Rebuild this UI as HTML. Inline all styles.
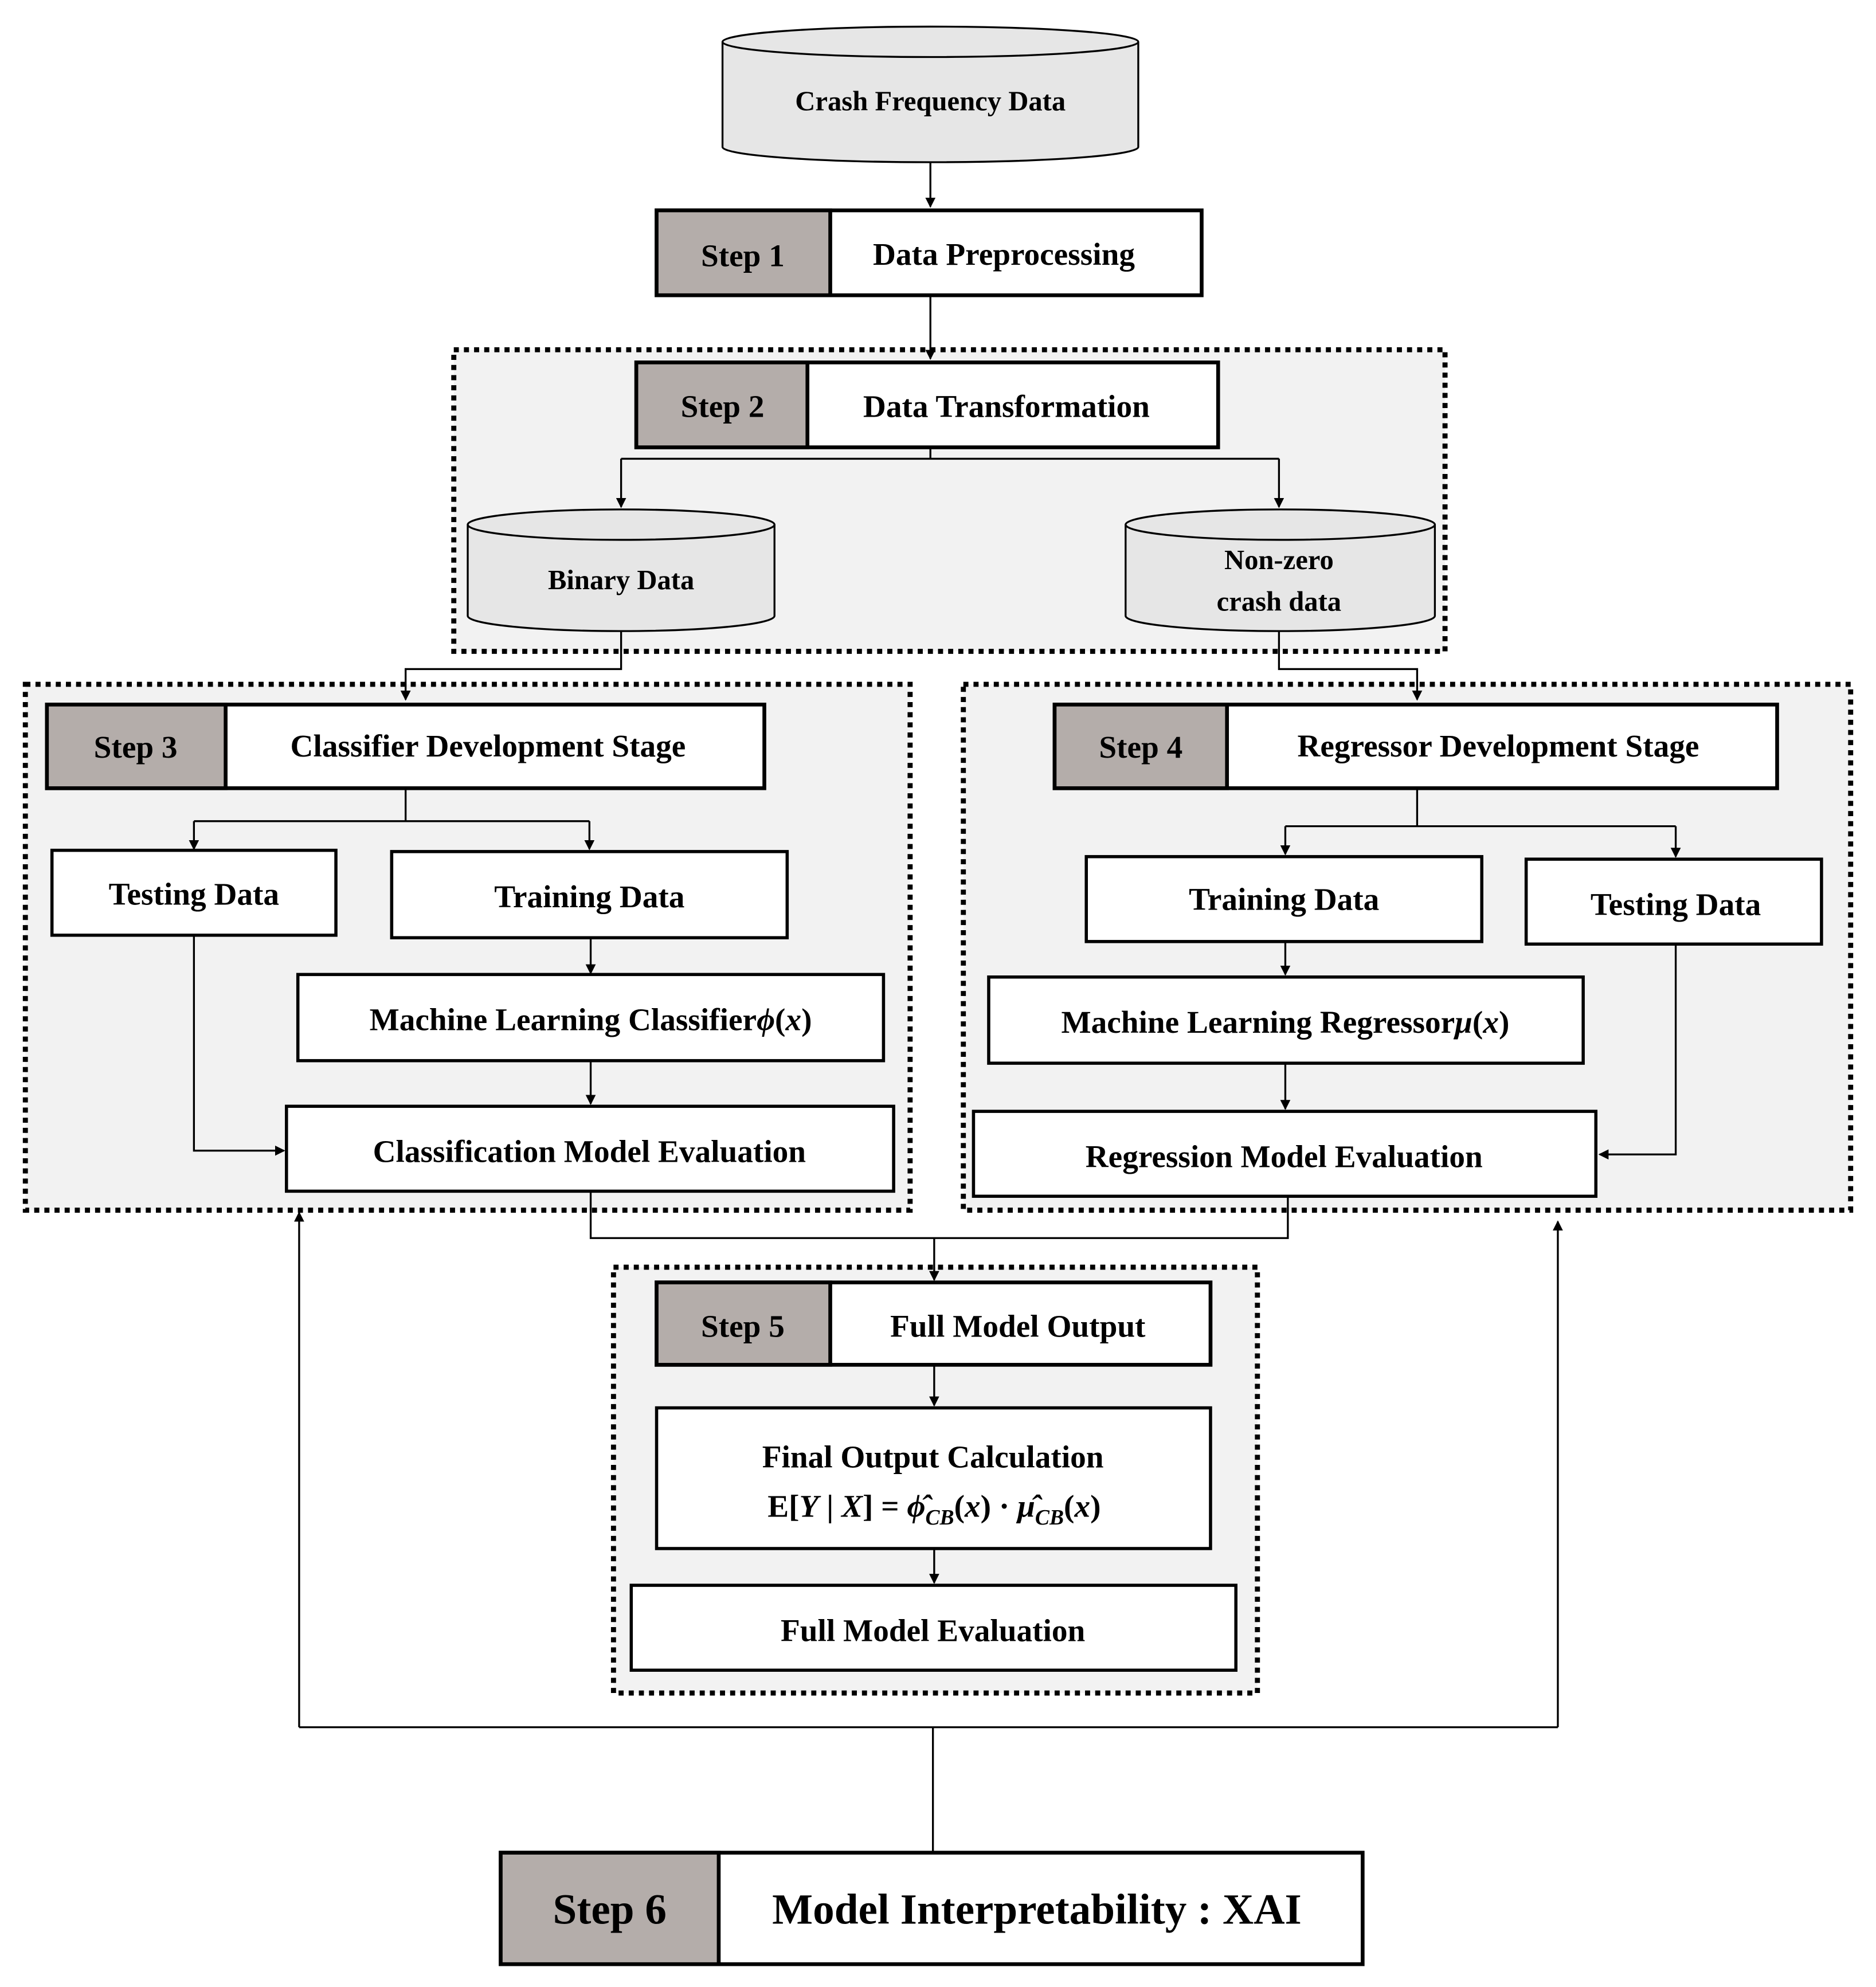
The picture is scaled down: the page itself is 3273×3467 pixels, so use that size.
<!DOCTYPE html>
<html><head><meta charset="utf-8"><style>html,body{margin:0;padding:0;background:#fff}svg{display:block}</style></head>
<body>
<svg width="3273" height="3467" viewBox="0 0 1480 1568" preserveAspectRatio="none" xmlns="http://www.w3.org/2000/svg" font-family="'Liberation Serif', serif" font-weight="bold">
<defs>
<marker id="a" markerWidth="8" markerHeight="8" refX="7" refY="4" orient="auto" markerUnits="userSpaceOnUse" viewBox="0 0 8 8"><path d="M0,0 L8,4 L0,8z" fill="#000"/></marker>
</defs>
<rect width="1480" height="1568" fill="#fff"/>
<!-- dotted regions -->
<g fill="#f2f2f2" stroke="#000" stroke-width="4" stroke-dasharray="4,4">
<rect x="358" y="276" width="782" height="238"/>
<rect x="20" y="540" width="698" height="415"/>
<rect x="760" y="540" width="700" height="415"/>
<rect x="484" y="1000" width="508" height="336"/>
</g>
<!-- cylinders -->
<g fill="#e6e6e6" stroke="#000" stroke-width="1.5">
<path d="M570,33 L570,116 A164,12 0 0 0 898,116 L898,33"/>
<ellipse cx="734" cy="33" rx="164" ry="12"/>
<path d="M369,414 L369,486 A121,12 0 0 0 611,486 L611,414"/>
<ellipse cx="490" cy="414" rx="121" ry="12"/>
<path d="M888,414 L888,486 A122,12 0 0 0 1132,486 L1132,414"/>
<ellipse cx="1010" cy="414" rx="122" ry="12"/>
</g>
<!-- connectors -->
<g stroke="#000" stroke-width="1.5" fill="none">
<path d="M734,128 V163" marker-end="url(#a)"/>
<path d="M734,233 V283" marker-end="url(#a)"/>
<path d="M734,353 V362 M490,362 H1009"/>
<path d="M490,362 V400" marker-end="url(#a)"/>
<path d="M1009,362 V400" marker-end="url(#a)"/>
<path d="M490,498 V528 H320 V552" marker-end="url(#a)"/>
<path d="M1009,498 V528 H1118 V552" marker-end="url(#a)"/>
<path d="M320,622 V648 M153,648 H465"/>
<path d="M153,648 V670" marker-end="url(#a)"/>
<path d="M465,648 V670" marker-end="url(#a)"/>
<path d="M466,740 V768" marker-end="url(#a)"/>
<path d="M466,837 V871" marker-end="url(#a)"/>
<path d="M153,738 V908 H224" marker-end="url(#a)"/>
<path d="M1118,622 V652 M1014,652 H1322"/>
<path d="M1014,652 V674" marker-end="url(#a)"/>
<path d="M1322,652 V676" marker-end="url(#a)"/>
<path d="M1014,743 V769" marker-end="url(#a)"/>
<path d="M1014,839 V875" marker-end="url(#a)"/>
<path d="M1322,745 V911 H1262" marker-end="url(#a)"/>
<path d="M466,940 V977 H1016 V944"/>
<path d="M737,977 V1010" marker-end="url(#a)"/>
<path d="M737,1077 V1109" marker-end="url(#a)"/>
<path d="M737,1222 V1249" marker-end="url(#a)"/>
<path d="M736,1462 V1363 M236,1363 H1229"/>
<path d="M236,1363 V957" marker-end="url(#a)"/>
<path d="M1229,1363 V964" marker-end="url(#a)"/>
</g>
<!-- step boxes -->
<g stroke="#000" stroke-width="3">
<rect x="518" y="166" width="430" height="67" fill="#fff"/><rect x="518" y="166" width="137" height="67" fill="#b4adaa"/>
<rect x="502" y="286" width="459" height="67" fill="#fff"/><rect x="502" y="286" width="135" height="67" fill="#b4adaa"/>
<rect x="37" y="556" width="566" height="66" fill="#fff"/><rect x="37" y="556" width="141" height="66" fill="#b4adaa"/>
<rect x="832" y="556" width="570" height="66" fill="#fff"/><rect x="832" y="556" width="136" height="66" fill="#b4adaa"/>
<rect x="518" y="1012" width="437" height="65" fill="#fff"/><rect x="518" y="1012" width="137" height="65" fill="#b4adaa"/>
<rect x="395" y="1462" width="680" height="88" fill="#fff"/><rect x="395" y="1462" width="172" height="88" fill="#b4adaa"/>
</g>
<g stroke="#000" stroke-width="2.5" fill="#fff">
<rect x="41" y="671" width="224" height="67"/>
<rect x="309" y="672" width="312" height="68"/>
<rect x="235" y="769" width="462" height="68"/>
<rect x="226" y="873" width="479" height="67"/>
<rect x="857" y="676" width="312" height="67"/>
<rect x="1204" y="678" width="233" height="67"/>
<rect x="780" y="771" width="469" height="68"/>
<rect x="768" y="877" width="491" height="67"/>
<rect x="518" y="1111" width="437" height="111"/>
<rect x="498" y="1251" width="477" height="67"/>
</g>
<!-- text -->
<g font-size="25" text-anchor="middle" fill="#000">
<text x="734" y="87" font-size="22">Crash Frequency Data</text>
<text x="586" y="210">Step 1</text><text x="792" y="209" text-anchor="middle">Data Preprocessing</text>
<text x="570" y="329">Step 2</text><text x="794" y="329">Data Transformation</text>
<text x="490" y="465" font-size="22">Binary Data</text>
<text x="1009" y="449" font-size="22">Non-zero</text><text x="1009" y="482" font-size="22">crash data</text>
<text x="107" y="598">Step 3</text><text x="385" y="597">Classifier Development Stage</text>
<text x="900" y="598">Step 4</text><text x="1182" y="597">Regressor Development Stage</text>
<text x="153" y="714">Testing Data</text>
<text x="465" y="716">Training Data</text>
<text x="466" y="813">Machine Learning Classifier<tspan font-style="italic">ϕ</tspan>(<tspan font-style="italic">x</tspan>)</text>
<text x="465" y="917">Classification Model Evaluation</text>
<text x="1013" y="718">Training Data</text>
<text x="1322" y="722">Testing Data</text>
<text x="1014" y="815">Machine Learning Regressor<tspan font-style="italic">μ</tspan>(<tspan font-style="italic">x</tspan>)</text>
<text x="1013" y="921">Regression Model Evaluation</text>
<text x="586" y="1055">Step 5</text><text x="803" y="1055">Full Model Output</text>
<text x="736" y="1158">Final Output Calculation</text>
<text x="737" y="1197">E[<tspan font-style="italic">Y</tspan> | <tspan font-style="italic">X</tspan>] = <tspan font-style="italic">ϕ̂</tspan><tspan font-style="italic" font-size="17" dy="6">CB</tspan><tspan dy="-6">(</tspan><tspan font-style="italic">x</tspan>) · <tspan font-style="italic">μ̂</tspan><tspan font-style="italic" font-size="17" dy="6">CB</tspan><tspan dy="-6">(</tspan><tspan font-style="italic">x</tspan>)</text>
<text x="736" y="1295">Full Model Evaluation</text>
<text x="481" y="1518" font-size="34">Step 6</text>
<text x="818" y="1518" font-size="34">Model Interpretability  : XAI</text>
</g>
</svg>
</body></html>
